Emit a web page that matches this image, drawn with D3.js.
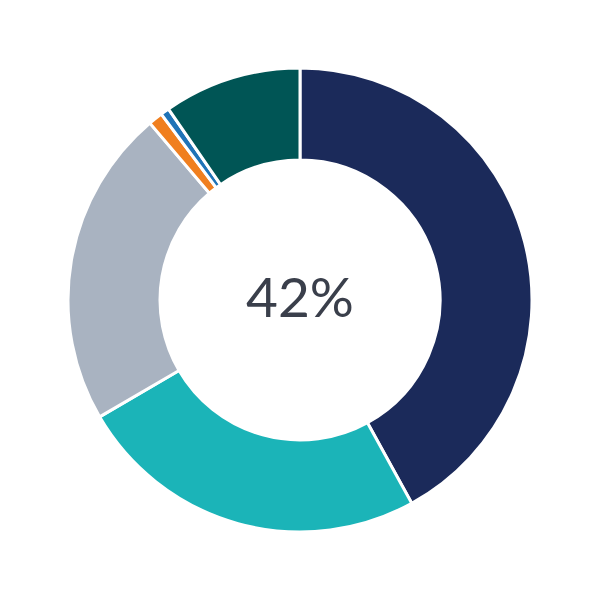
<!DOCTYPE html>
<html>
<head>
<meta charset="utf-8">
<script src="https://d3js.org/d3.v7.min.js"></script>
<style>
  body { margin: 0; background: #fff; }
</style>
</head>
<body>
<script>
// slice data, clockwise from 12 o'clock
const labels = ["A", "B", "C", "D", "E", "F"];
const values = [42, 24.6, 22.2, 1.0, 0.6, 9.6];
const colors = ["#1b2a5a", "#1bb4b8", "#a9b3c1", "#f07f1f", "#1f73b7", "#005555"];
const centerLabel = "42%";

const W = 600, H = 600;
const outerR = 232, innerR = 140;

const svg = d3.select("body").append("svg")
  .attr("width", W)
  .attr("height", H);

const g = svg.append("g")
  .attr("transform", `translate(${W / 2},${H / 2})`);

const pie = d3.pie().sort(null).value(d => d.value);
const arc = d3.arc().innerRadius(innerR).outerRadius(outerR);

const data = labels.map((l, i) => ({ label: l, value: values[i], color: colors[i] }));

g.selectAll("path")
  .data(pie(data))
  .join("path")
  .attr("d", arc)
  .attr("fill", d => d.data.color)
  .attr("stroke", "#fff")
  .attr("stroke-width", 3);

// center label
g.append("text")
  .attr("text-anchor", "middle")
  .attr("dy", "0.3em")
  .attr("font-family", "Lato, sans-serif")
  .attr("font-size", 55)
  .attr("fill", "#3a3f4b")
  .text(centerLabel);
</script>
</body>
</html>
